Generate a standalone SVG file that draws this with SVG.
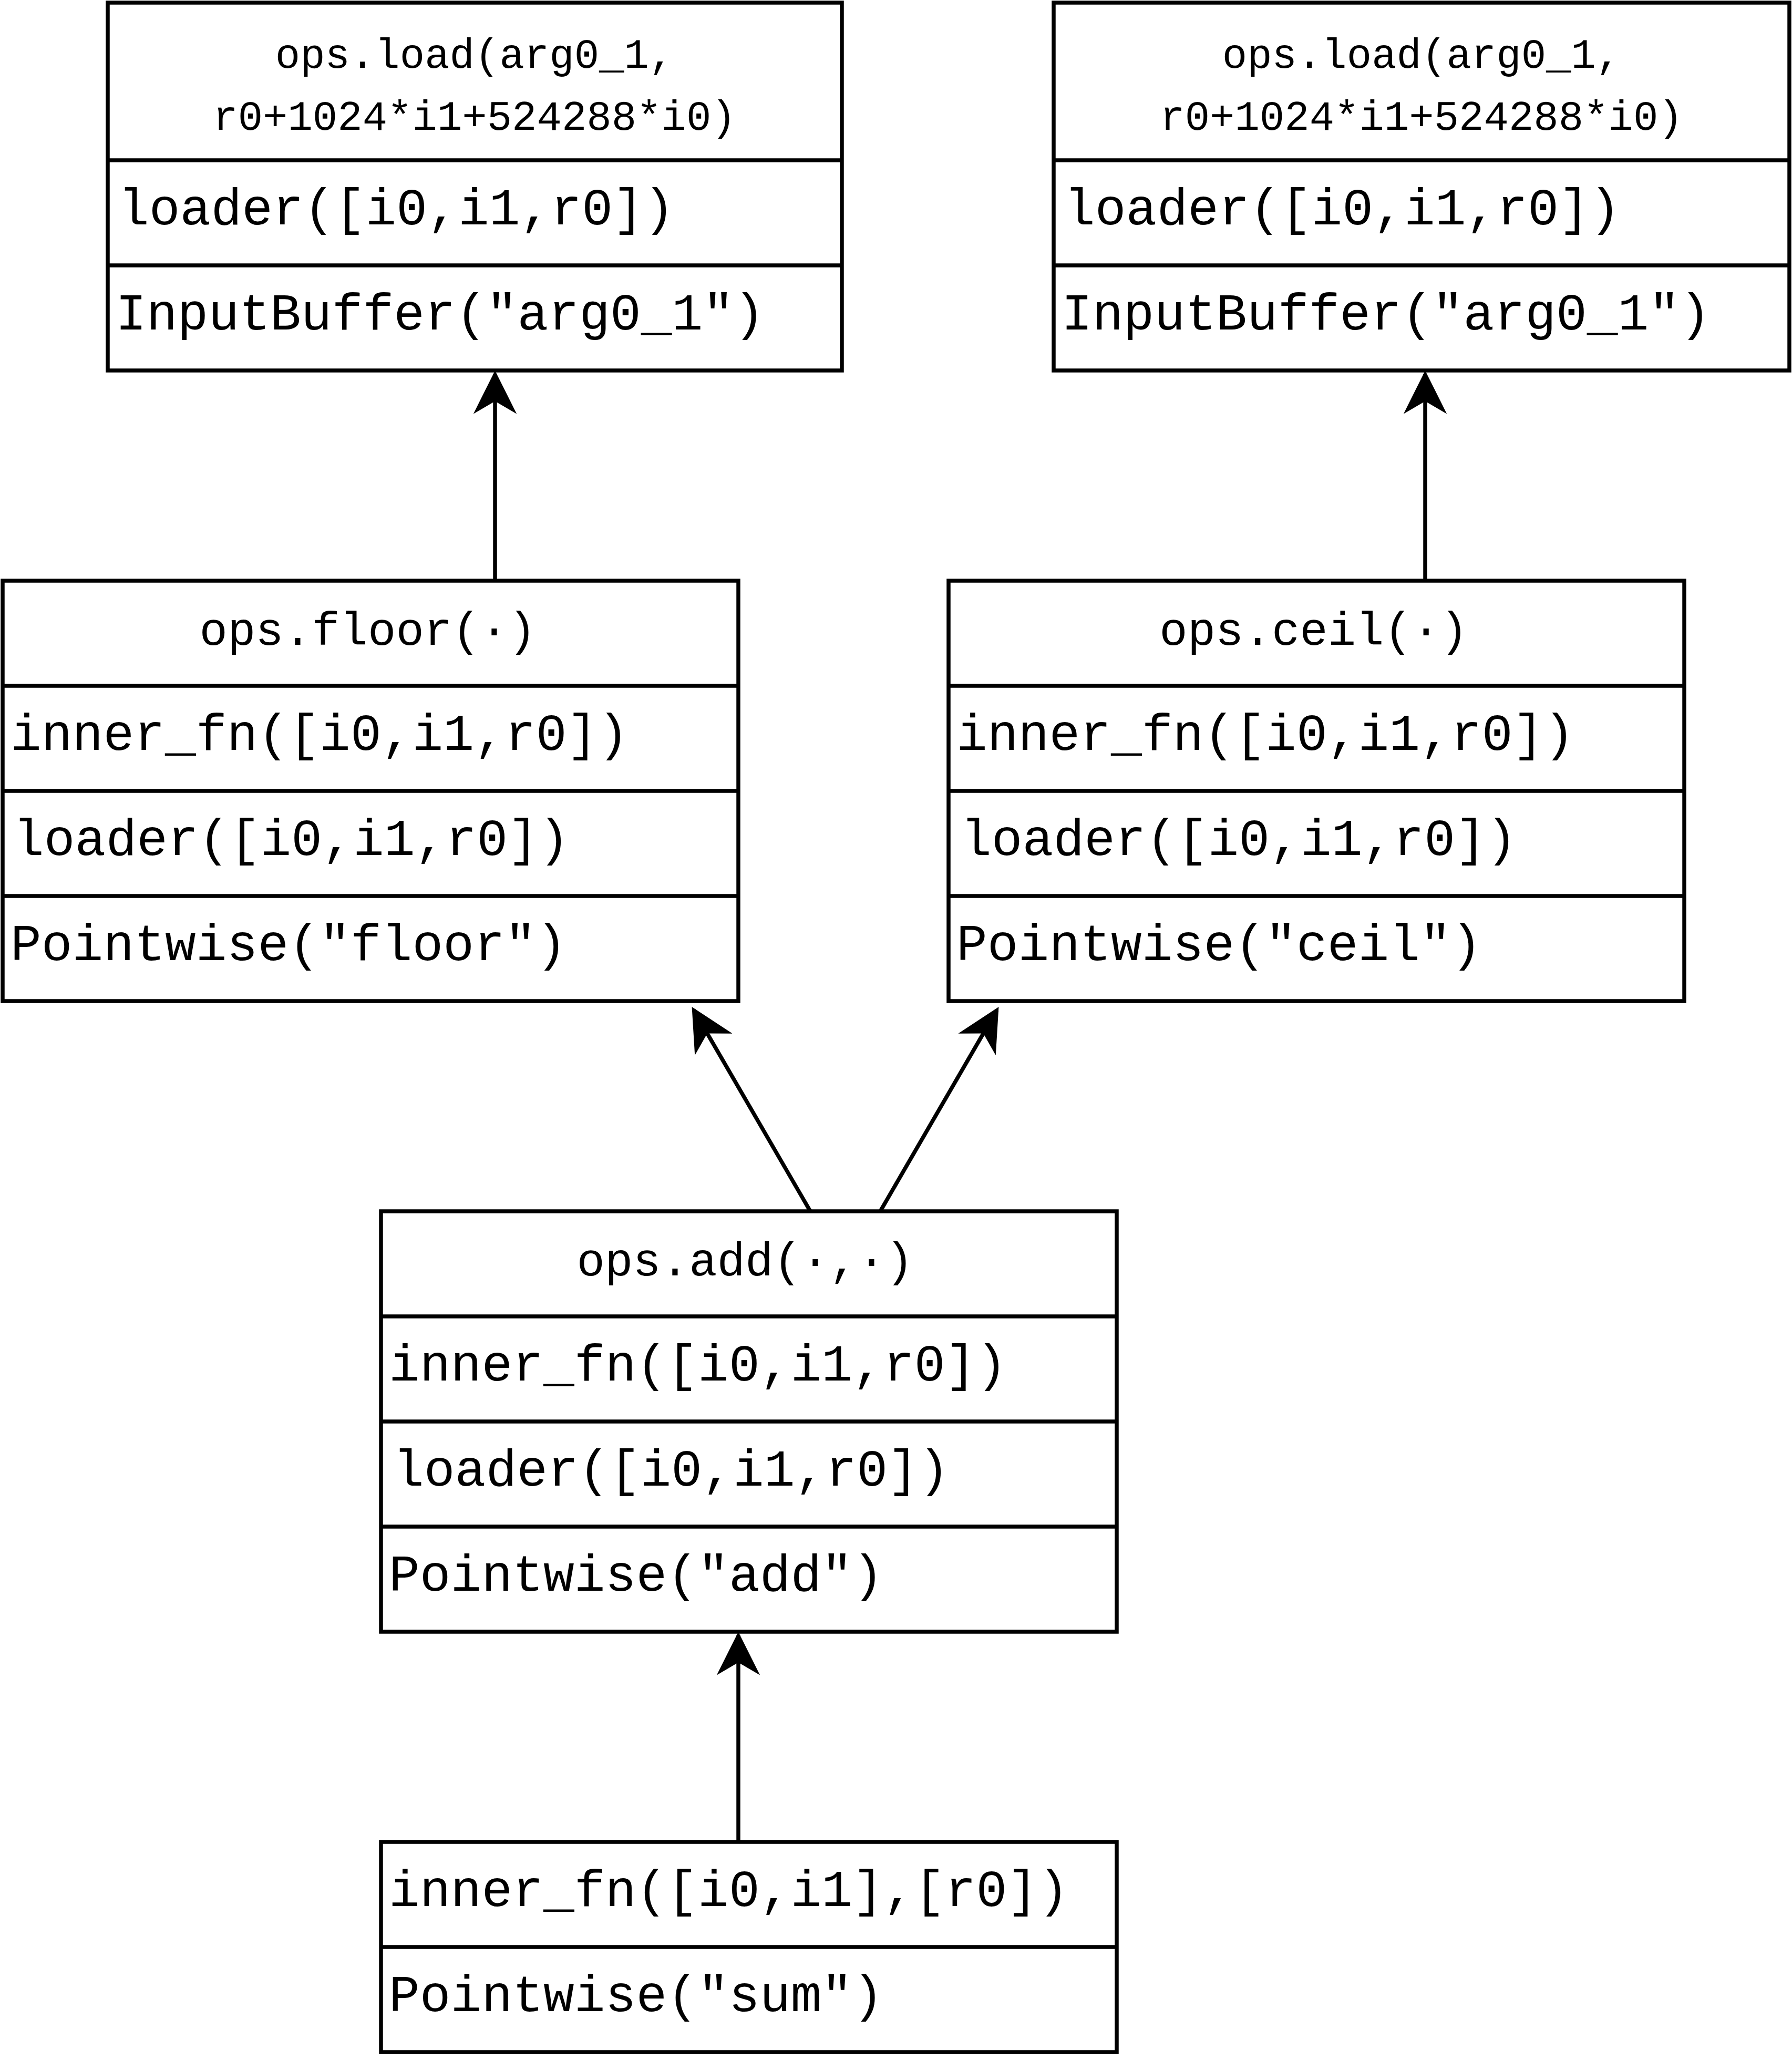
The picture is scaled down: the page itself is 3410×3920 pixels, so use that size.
<svg xmlns="http://www.w3.org/2000/svg" width="3410" height="3920" viewBox="0 0 3410 3920">
<style>
rect,line.s{fill:#fff;stroke:#000;stroke-width:7.5}
.c{stroke:#000;stroke-width:7.5;fill:none}
text{font-family:"Liberation Mono","DejaVu Sans Mono",monospace;fill:#000;dominant-baseline:central}
.r{font-size:98px}
.h{font-size:89px;text-anchor:middle}
.t{font-size:79px;text-anchor:middle}
</style>
<defs><marker id="a" viewBox="0 0 10 10" refX="9" refY="5" markerWidth="8" markerHeight="8" orient="auto" markerUnits="userSpaceOnUse"><path d="M0,0 L10,5 L0,10 L3,5 Z" fill="#000"/></marker>
<marker id="m" viewBox="0 0 12 12" refX="11" refY="6" markerWidth="11" markerHeight="11" orient="auto"><path d="M0,0 L12,6 L0,12 L3.5,6 Z" fill="#000"/></marker></defs>
<g id="load1"><rect x="205" y="5" width="1397" height="700"/><line class="s" x1="205" y1="305" x2="1602" y2="305"/><line class="s" x1="205" y1="505" x2="1602" y2="505"/>
<text class="t" x="903" y="108">ops.load(arg0_1,</text><text class="t" x="903" y="226">r0+1024*i1+524288*i0)</text>
<text class="r" x="225" y="400">loader([i0,i1,r0])</text><text class="r" x="220" y="600">InputBuffer("arg0_1")</text></g>
<g id="load2"><rect x="2005" y="5" width="1400" height="700"/><line class="s" x1="2005" y1="305" x2="3405" y2="305"/><line class="s" x1="2005" y1="505" x2="3405" y2="505"/>
<text class="t" x="2705" y="108">ops.load(arg0_1,</text><text class="t" x="2705" y="226">r0+1024*i1+524288*i0)</text>
<text class="r" x="2025" y="400">loader([i0,i1,r0])</text><text class="r" x="2020" y="600">InputBuffer("arg0_1")</text></g>
<g id="floor"><rect x="5" y="1105" width="1400" height="800"/><line class="s" x1="5" y1="1305" x2="1405" y2="1305"/><line class="s" x1="5" y1="1505" x2="1405" y2="1505"/><line class="s" x1="5" y1="1705" x2="1405" y2="1705"/>
<text class="h" x="700" y="1203">ops.floor(·)</text><text class="r" x="20" y="1400">inner_fn([i0,i1,r0])</text><text class="r" x="25" y="1600">loader([i0,i1,r0])</text><text class="r" x="20" y="1800">Pointwise("floor")</text></g>
<g id="ceil"><rect x="1805" y="1105" width="1400" height="800"/><line class="s" x1="1805" y1="1305" x2="3205" y2="1305"/><line class="s" x1="1805" y1="1505" x2="3205" y2="1505"/><line class="s" x1="1805" y1="1705" x2="3205" y2="1705"/>
<text class="h" x="2500" y="1203">ops.ceil(·)</text><text class="r" x="1820" y="1400">inner_fn([i0,i1,r0])</text><text class="r" x="1828" y="1600">loader([i0,i1,r0])</text><text class="r" x="1820" y="1800">Pointwise("ceil")</text></g>
<g id="add"><rect x="725" y="2305" width="1400" height="800"/><line class="s" x1="725" y1="2505" x2="2125" y2="2505"/><line class="s" x1="725" y1="2705" x2="2125" y2="2705"/><line class="s" x1="725" y1="2905" x2="2125" y2="2905"/>
<text class="h" x="1418" y="2403">ops.add(·,·)</text><text class="r" x="740" y="2600">inner_fn([i0,i1,r0])</text><text class="r" x="748" y="2800">loader([i0,i1,r0])</text><text class="r" x="740" y="3000">Pointwise("add")</text></g>
<g id="sum"><rect x="725" y="3505" width="1400" height="400"/><line class="s" x1="725" y1="3705" x2="2125" y2="3705"/>
<text class="r" x="740" y="3600">inner_fn([i0,i1],[r0])</text><text class="r" x="740" y="3800">Pointwise("sum")</text></g>
<g id="connectors">
<line class="c" x1="942" y1="1105" x2="942" y2="712" marker-end="url(#m)"/>
<line class="c" x1="2712" y1="1105" x2="2712" y2="712" marker-end="url(#m)"/>
<line class="c" x1="1542" y1="2305" x2="1320" y2="1922" marker-end="url(#m)"/>
<line class="c" x1="1675" y1="2305" x2="1897" y2="1922" marker-end="url(#m)"/>
<line class="c" x1="1405" y1="3505" x2="1405" y2="3112" marker-end="url(#m)"/>
</g>
</svg>
